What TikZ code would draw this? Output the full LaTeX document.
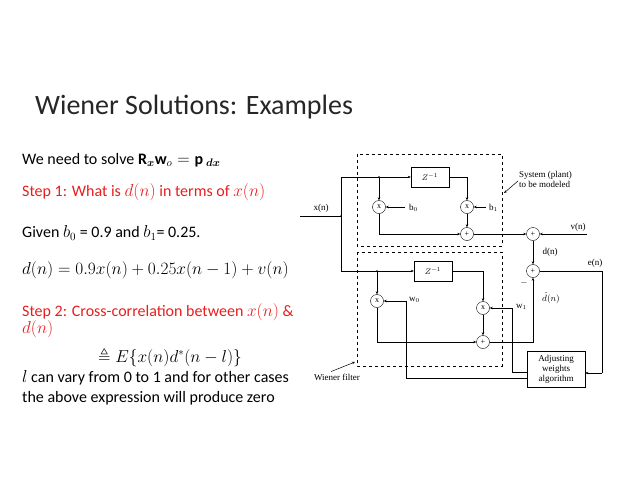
\documentclass[tikz,border=0pt]{standalone}
\usepackage{amsmath,amssymb}
\usepackage{fontspec}
\setmainfont{Carlito}
\newfontfamily\dfont{Liberation Serif}
\usetikzlibrary{arrows.meta}
\definecolor{stepred}{RGB}{230,30,30}
\begin{document}
\begin{tikzpicture}[x=1pt,y=-1pt,
  ln/.style={draw,line width=0.5pt},
  ar/.style={ln,-{Stealth[length=3pt,width=2.5pt]}},
  circ/.style={draw,circle,minimum size=13pt,inner sep=0pt,font=\dfont\fontsize{8}{9}\selectfont},
  zbox/.style={draw,minimum width=38pt,minimum height=20pt,inner sep=0pt,font=\dfont\fontsize{8}{9}\selectfont},
  lab/.style={font=\dfont\fontsize{9}{10}\selectfont,inner sep=1pt},
  dashbox/.style={draw,dashed,line width=0.5pt},
  txt/.style={anchor=west,inner sep=0pt,font=\fontsize{16}{18}\selectfont},
  dot/.style={circle,fill,inner sep=0pt,minimum size=2pt}]
\useasboundingbox (0,0) rectangle (638,493);
% left text
\node[anchor=west,inner sep=0pt,font=\fontsize{28}{32}\selectfont,color=black!85] (title) at (35,107) {Wiener Solutions: Examples};
\node[txt] (t1) at (22,160) {We need to solve $\mathbf{R}_{\boldsymbol{x}}\mathbf{w}_{o}=\mathbf{p}_{\;\boldsymbol{dx}}$};
\node[txt,text=stepred] (t2) at (22,192) {Step 1: What is $d(n)$ in terms of $x(n)$};
\node[txt] (t3) at (22,233) {Given $b_0$ = 0.9 and $b_1$= 0.25.};
\node[txt] (t4) at (22,270) {$d(n)=0.9x(n)+0.25x(n-1)+v(n)$};
\node[txt,text=stepred] (t5) at (22,312) {Step 2: Cross-correlation between $x(n)$ \&};
\node[txt,text=stepred] (t6) at (22,329) {$d(n)$};
\node[txt] (t7) at (98,357) {$\triangleq E\{x(n)d^{*}(n-l)\}$};
\node[txt] (t8) at (22,378) {$l$ can vary from 0 to 1 and for other cases};
\node[txt] (t9) at (22,398) {the above expression will produce zero};
% dashed boxes
\draw[dashbox] (357,154) rectangle (502,246);
\draw[dashbox] (357,252) rectangle (502,366);
% nodes
\node[zbox] (z1) at (430,177) {$Z^{-1}$};
\node[zbox] (z2) at (433,271) {$Z^{-1}$};
\node[circ] (m0) at (379,207) {x};
\node[circ] (m1) at (467,207) {x};
\node[circ] (a1) at (467,234) {+};
\node[circ] (s2) at (533,234) {+};
\node[circ] (s3) at (533,271) {+};
\node[circ] (mw0) at (377,301) {x};
\node[circ] (mw1) at (483,308) {x};
\node[circ] (a2) at (483,342) {+};
\node[draw,minimum width=58pt,minimum height=36pt,inner sep=0pt,align=center,font=\dfont\fontsize{9}{10}\selectfont] (alg) at (556,369) {Adjusting\\weights\\algorithm};
% coordinates
\coordinate (xin) at (300,216);
\coordinate (br) at (341,216);
\coordinate (bt) at (341,177);
\coordinate (bb) at (341,271);
\coordinate (d1) at (379,177);
\coordinate (d2) at (377,271);
\coordinate (vin) at (587,234);
\coordinate (b0s) at (405,207);
\coordinate (b1s) at (486,207);
\coordinate (eo) at (602,271);
\coordinate (eb) at (602,373);
\coordinate (w0a) at (406,378);
\coordinate (w0b) at (406,301);
\coordinate (w1a) at (512,372);
\coordinate (w1b) at (512,308);
\node[dot] at (br) {};
\node[dot] at (d1) {};
\node[dot] at (d2) {};
% connectors
\draw[ln] (xin) -- (br);
\draw[ln] (bt) -- (bb);
\draw[ar] (bt) -- (z1.west);
\draw[ar] (d1) -- (m0.north);
\draw[ar] (z1.east) -| (m1.north);
\draw[ar] (b0s) -- (m0.east);
\draw[ar] (b1s) -- (m1.east);
\draw[ar] (m1.south) -- (a1.north);
\draw[ar] (m0.south) |- (a1.west);
\draw[ar] (a1.east) -- (s2.west);
\draw[ar] (vin) -- (s2.east);
\draw[ar] (s2.south) -- (s3.north);
\draw[ar] (bb) -- (z2.west);
\draw[ar] (d2) -- (mw0.north);
\draw[ar] (z2.east) -| (mw1.north);
\draw[ar] (mw1.south) -- (a2.north);
\draw[ar] (mw0.south) |- (a2.west);
\draw[ar] (a2.east) -| (s3.south);
\draw[ln] (s3.east) -- (eo) -- (eb);
\draw[ar] (eb) -- (alg.east |- eb);
\draw[ln] (alg.west |- w0a) -- (w0a) -- (w0b);
\draw[ar] (w0b) -- (mw0.east);
\draw[ln] (alg.west |- w1a) -- (w1a) -- (w1b);
\draw[ar] (w1b) -- (mw1.east);
% labels
\node[lab] (lx) at (321,208) {x(n)};
\node[lab,anchor=west] (lb0) at (408,208) {b$_0$};
\node[lab,anchor=west] (lb1) at (488,208) {b$_1$};
\node[lab] (lv) at (578,227) {v(n)};
\node[lab] (ld) at (550,252) {d(n)};
\node[lab] (le) at (595,263) {e(n)};
\node[lab] (lm) at (524,283) {$-$};
\node[lab] (ldh) at (551,298) {$\hat{d}(n)$};
\node[lab,anchor=west] (lw0) at (408,300) {w$_0$};
\node[lab,anchor=west] (lw1) at (515,307) {w$_1$};
\node[lab,align=left,anchor=west] (lsys) at (518,179) {System (plant)\\to be modeled};
\node[lab] (lwf) at (337,377) {Wiener filter};
\draw[ar] (lsys.west) ++(0,2) -- (504,193);
\draw[ar] (lwf.north) ++(-6,-1) -- (355,362);
\end{tikzpicture}
\end{document}
